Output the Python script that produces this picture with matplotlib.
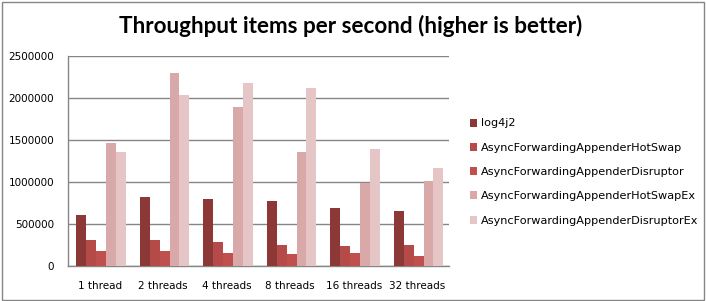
import matplotlib
matplotlib.use("Agg")
import matplotlib.pyplot as plt
import numpy as np
from matplotlib.patches import Rectangle

categories = ["1 thread", "2 threads", "4 threads", "8 threads", "16 threads", "32 threads"]
series_names = ["log4j2", "AsyncForwardingAppenderHotSwap", "AsyncForwardingAppenderDisruptor",
                "AsyncForwardingAppenderHotSwapEx", "AsyncForwardingAppenderDisruptorEx"]
log4j2 = [611000, 825000, 802000, 778000, 694000, 659000]
hotswap = [313000, 313000, 290000, 254000, 242000, 254000]
disruptor = [183000, 183000, 159000, 147000, 159000, 123000]
hotswap_ex = [1468000, 2302000, 1897000, 1361000, 992000, 1016000]
disruptor_ex = [1361000, 2040000, 2183000, 2123000, 1397000, 1171000]
yticks = [0, 500000, 1000000, 1500000, 2000000, 2500000]

series = [log4j2, hotswap, disruptor, hotswap_ex, disruptor_ex]
colors = ["#8C3836", "#B54B48", "#C0504D", "#D9A8A8", "#E6C5C6"]

fig = plt.figure(figsize=(7.06, 3.01), dpi=100)
ax = fig.add_axes([68/706, 1-266/301, (449-68)/706, (266-56)/301])

x = np.arange(len(categories))
w = 0.157
for i, (vals, c, name) in enumerate(zip(series, colors, series_names)):
    ax.bar(x + (i - 2) * w + 0.02, vals, width=w, color=c, label=name, linewidth=0, zorder=3)

ax.set_xlim(-0.5, len(categories) - 0.5)
ax.set_ylim(0, 2500000)
ax.set_yticks(yticks)
ax.set_yticklabels([str(v) for v in yticks])
ax.set_xticks(x)
ax.set_xticklabels(categories)
ax.tick_params(axis='both', labelsize=7.5, length=0, colors="#000000")
ax.tick_params(axis='y', pad=10)
ax.tick_params(axis='x', pad=11)
ax.yaxis.grid(True, color="#868686", linewidth=1, zorder=0)
for s in ["top", "right"]:
    ax.spines[s].set_visible(False)
for s in ["left", "bottom"]:
    ax.spines[s].set_color("#868686")
    ax.spines[s].set_linewidth(1)

fig.text(351/706, 1-26/301, "Throughput items per second (higher is better)",
         ha="center", va="center", fontsize=16.2, fontweight="bold", family="Lato")

handles, labels = ax.get_legend_handles_labels()
leg = fig.legend(handles, labels, loc="upper left", bbox_to_anchor=(465/706, 1-114/301),
                 frameon=False, fontsize=8.1, handlelength=0.7, handleheight=0.7,
                 handletextpad=0.3, labelspacing=1.27, borderaxespad=0)

fig.patches.append(Rectangle((1.5/706, 1.5/301), 702/706, 298/301, transform=fig.transFigure,
                             fill=False, edgecolor="#868686", linewidth=1))

fig.savefig("out.png", dpi=100)
